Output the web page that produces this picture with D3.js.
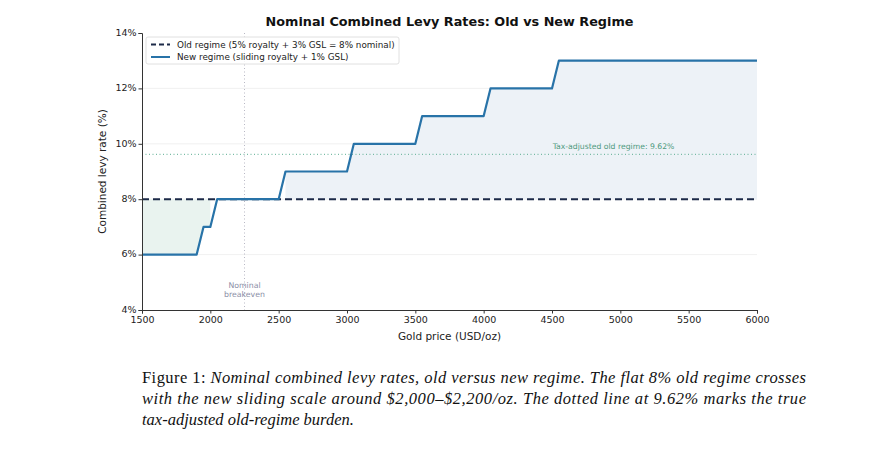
<!DOCTYPE html>
<html>
<head>
<meta charset="utf-8">
<script src="https://cdn.jsdelivr.net/npm/d3@7"></script>
<style>
  body { margin: 0; background: #fff; }
  svg { display: block; }
</style>
</head>
<body>
<svg width="880" height="454"></svg>
<script>
// new regime: gold price (USD/oz) -> combined rate (%)
let goldPrice = [1500, 1900, 1950, 2000, 2050, 2500, 2550, 3000, 3050, 3500, 3550, 4000, 4050, 4500, 4550, 6000];
let newRate   = [6, 6, 7, 7, 8, 8, 9, 9, 10, 10, 11, 11, 12, 12, 13, 13];
let oldRate = 8;
let taxAdjusted = 9.62;
let breakeven = 2250;
let xTicks = [1500, 2000, 2500, 3000, 3500, 4000, 4500, 5000, 5500, 6000];
let yTicks = [4, 6, 8, 10, 12, 14];

let data = goldPrice.map((p, i) => ({ p: p, v: newRate[i] }));

let svg = d3.select('svg');
let margin = { left: 142, right: 123, top: 33, bottom: 144 };
let width = 880, height = 454;
let sans = 'DejaVu Sans, Verdana, sans-serif';

let x = d3.scaleLinear().domain([1500, 6000]).range([margin.left, width - margin.right]);
let y = d3.scaleLinear().domain([4, 14]).range([height - margin.bottom, margin.top]);

// grid
svg.append('g')
  .selectAll('line')
  .data(yTicks.slice(1, -1))
  .enter().append('line')
    .attr('x1', x(1500)).attr('x2', x(6000))
    .attr('y1', d => y(d)).attr('y2', d => y(d))
    .attr('stroke', '#ececec')
    .attr('stroke-width', 0.8);

// fills
let area = d3.area()
  .x(d => x(d.p))
  .y0(y(oldRate))
  .y1(d => y(d.v));

svg.append('path')
  .datum(data)
  .attr('d', area.defined(d => d.v < oldRate))
  .attr('fill', '#e9f3ef');

svg.append('path')
  .datum(data)
  .attr('d', area.defined(d => d.v > oldRate))
  .attr('fill', '#edf2f7');

// breakeven marker
svg.append('line')
  .attr('x1', x(breakeven)).attr('x2', x(breakeven))
  .attr('y1', y(14)).attr('y2', y(4))
  .attr('stroke', '#b8b8c4')
  .attr('stroke-width', 1)
  .attr('stroke-dasharray', '1,2.5');

svg.append('text')
  .attr('x', x(breakeven)).attr('y', 288)
  .attr('text-anchor', 'middle')
  .attr('font-family', sans)
  .attr('font-size', 7.8)
  .attr('fill', '#8a8ea6')
  .selectAll('tspan')
  .data(['Nominal', 'breakeven'])
  .enter().append('tspan')
    .attr('x', x(breakeven))
    .attr('dy', (d, i) => i ? 9 : 0)
    .text(d => d);

// tax-adjusted line
svg.append('line')
  .attr('x1', x(1500)).attr('x2', x(6000))
  .attr('y1', y(taxAdjusted)).attr('y2', y(taxAdjusted))
  .attr('stroke', '#5aac90')
  .attr('stroke-width', 1)
  .attr('stroke-dasharray', '1,2.5');

svg.append('text')
  .attr('x', x(4950)).attr('y', y(taxAdjusted) - 5)
  .attr('text-anchor', 'middle')
  .attr('font-family', sans)
  .attr('font-size', 7.7)
  .attr('fill', '#4e9a80')
  .text('Tax-adjusted old regime: 9.62%');

// old regime
svg.append('line')
  .attr('x1', x(1500)).attr('x2', x(6000))
  .attr('y1', y(oldRate)).attr('y2', y(oldRate))
  .attr('stroke', '#1c2a48')
  .attr('stroke-width', 2)
  .attr('stroke-dasharray', '7,4');

// new regime
svg.append('path')
  .datum(data)
  .attr('d', d3.line().x(d => x(d.p)).y(d => y(d.v)))
  .attr('fill', 'none')
  .attr('stroke', '#2873a8')
  .attr('stroke-width', 2.2)
  .attr('stroke-linejoin', 'round');

// axes
let xAxis = svg.append('g')
  .attr('transform', `translate(0,${y(4)})`)
  .call(d3.axisBottom(x).tickValues(xTicks).tickFormat(d3.format('d')).tickSize(3.5).tickPadding(2.5));
let yAxis = svg.append('g')
  .attr('transform', `translate(${x(1500)},0)`)
  .call(d3.axisLeft(y).tickValues(yTicks).tickFormat(d => d + '%').tickSize(3.5).tickPadding(2));

[xAxis, yAxis].forEach(g => {
  g.selectAll('text').attr('font-family', sans).attr('font-size', 9.5).attr('fill', '#222');
  g.select('.domain').attr('stroke', '#333').attr('stroke-width', 1);
  g.selectAll('.tick line').attr('stroke', '#333');
});
// lift the bottom y label a touch so it clears "1500"
yAxis.selectAll('.tick text').attr('dy', '0.25em');

svg.append('text')
  .attr('x', (x(1500) + x(6000)) / 2).attr('y', 340)
  .attr('text-anchor', 'middle')
  .attr('font-family', sans).attr('font-size', 10.5).attr('fill', '#222')
  .text('Gold price (USD/oz)');

svg.append('text')
  .attr('transform', `translate(106,${(y(4) + y(14)) / 2}) rotate(-90)`)
  .attr('text-anchor', 'middle')
  .attr('font-family', sans).attr('font-size', 10.5).attr('fill', '#222')
  .text('Combined levy rate (%)');

svg.append('text')
  .attr('x', (x(1500) + x(6000)) / 2).attr('y', 26)
  .attr('text-anchor', 'middle')
  .attr('font-family', sans).attr('font-weight', 'bold').attr('font-size', 12.8).attr('fill', '#111')
  .text('Nominal Combined Levy Rates: Old vs New Regime');

// legend
let legend = svg.append('g').attr('transform', 'translate(146,37)');
legend.append('rect')
  .attr('width', 253).attr('height', 27).attr('rx', 2)
  .attr('fill', '#fff').attr('fill-opacity', 0.85)
  .attr('stroke', '#d8d8d8').attr('stroke-width', 0.8);
let items = [
  { label: 'Old regime (5% royalty + 3% GSL = 8% nominal)', color: '#1c2a48', dash: '5,3' },
  { label: 'New regime (sliding royalty + 1% GSL)', color: '#2873a8', dash: null }
];
items.forEach((it, i) => {
  let gy = 7.5 + i * 12.5;
  legend.append('line')
    .attr('x1', 5).attr('x2', 24).attr('y1', gy).attr('y2', gy)
    .attr('stroke', it.color).attr('stroke-width', 2)
    .attr('stroke-dasharray', it.dash);
  legend.append('text')
    .attr('x', 31).attr('y', gy + 3)
    .attr('font-family', sans).attr('font-size', 8.8).attr('fill', '#222')
    .text(it.label);
});

// caption
let caption = svg.append('g')
  .attr('font-family', 'Liberation Serif, DejaVu Serif, serif')
  .attr('font-size', 16.5)
  .attr('fill', '#111');
let capLines = [
  { y: 383, parts: [['Figure 1: ', 'normal'], ['Nominal combined levy rates, old versus new regime. The flat 8% old regime crosses', 'italic']], just: true },
  { y: 404, parts: [['with the new sliding scale around $2,000–$2,200/oz. The dotted line at 9.62% marks the true', 'italic']], just: true },
  { y: 425, parts: [['tax-adjusted old-regime burden.', 'italic']], just: false }
];
capLines.forEach(l => {
  let t = caption.append('text').attr('x', 142).attr('y', l.y);
  if (l.just) t.attr('textLength', 664).attr('lengthAdjust', 'spacing');
  l.parts.forEach(p => t.append('tspan').attr('font-style', p[1]).text(p[0]));
});
</script>
</body>
</html>
